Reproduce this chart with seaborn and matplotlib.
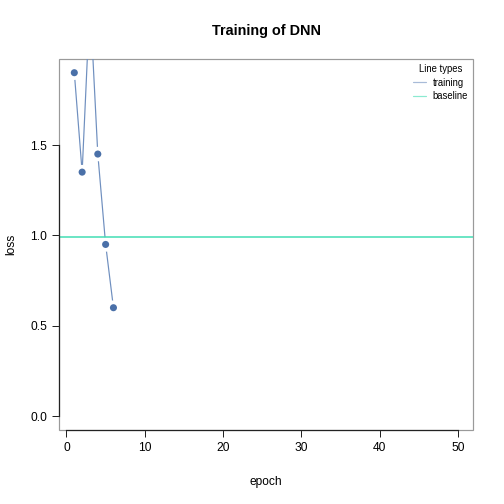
"""Training loss of a DNN per epoch, with a constant baseline."""

import matplotlib
matplotlib.use("Agg")
import matplotlib.pyplot as plt
import pandas as pd
import seaborn as sns
from matplotlib.lines import Line2D
from matplotlib.patches import Rectangle

# data
epochs = [1, 2, 3, 4, 5, 6]
loss = [1.90, 1.35, 2.30, 1.45, 0.95, 0.60]
baseline = 0.99
x_ticks = [0, 10, 20, 30, 40, 50]
y_ticks = [0.0, 0.5, 1.0, 1.5]
y_tick_labels = ["0.0", "0.5", "1.0", "1.5"]

point_color = "#4A70A8"
line_color = "#6F8FBF"
base_color = "#3EDDB2"

sns.set_theme(style="white")
plt.rcParams["font.family"] = ["Liberation Sans", "DejaVu Sans"]
plt.rcParams.update({
    "text.color": "black",
    "axes.labelcolor": "black",
    "xtick.color": "black",
    "ytick.color": "black",
})

df = pd.DataFrame({"epoch": epochs, "loss": loss})

fig = plt.figure(figsize=(7, 7), dpi=72)
ax = fig.add_axes([0.117, 0.147, 0.822, 0.736])

sns.lineplot(data=df, x="epoch", y="loss", color=line_color, linewidth=1.2,
             ax=ax, zorder=2)
# white discs leave the gaps around points like R's type="b"
sns.scatterplot(data=df, x="epoch", y="loss", color="white", s=210,
                edgecolor="none", ax=ax, zorder=3)
ax.axhline(baseline, color=base_color, linewidth=1.5, zorder=4)
sns.scatterplot(data=df, x="epoch", y="loss", color=point_color, s=50,
                edgecolor="none", ax=ax, zorder=5)

ax.set_xlim(-0.96, 51.96)
ax.set_ylim(-0.076, 1.976)
ax.set_xticks(x_ticks)
ax.set_yticks(y_ticks)
ax.set_yticklabels(y_tick_labels)
ax.tick_params(axis="both", direction="out", length=7, width=1,
               color="#222222", labelsize=12, pad=5, left=True, bottom=True)

# grey box, dark axis lines only between the outer ticks
for side in ["top", "right"]:
    ax.spines[side].set_visible(False)
ax.add_patch(Rectangle((0, 0), 1, 1, transform=ax.transAxes, fill=False,
                       edgecolor="#9A9A9A", linewidth=1.2, clip_on=False,
                       zorder=1))
for side, ticks in [("left", y_ticks), ("bottom", x_ticks)]:
    ax.spines[side].set_bounds(ticks[0], ticks[-1])
    ax.spines[side].set_color("#222222")
    ax.spines[side].set_linewidth(1.2)
    ax.spines[side].set_zorder(7)

ax.set_xlabel("epoch", fontsize=12, labelpad=22)
ax.set_ylabel("loss", fontsize=12, labelpad=13)
ax.set_title("Training of DNN", fontsize=14.4, fontweight="bold", pad=24)

handles = [
    Line2D([0], [0], color=line_color, alpha=0.6, linewidth=1.2),
    Line2D([0], [0], color=base_color, alpha=0.6, linewidth=1.2),
]
leg = ax.legend(handles, ["training", "baseline"], title="Line types",
                loc="upper right", frameon=False, fontsize=9.5,
                title_fontsize=9.5, handlelength=1.4, handletextpad=0.7,
                borderaxespad=0.15, labelspacing=0.35)

fig.savefig("out.png", dpi=72)
plt.close(fig)
